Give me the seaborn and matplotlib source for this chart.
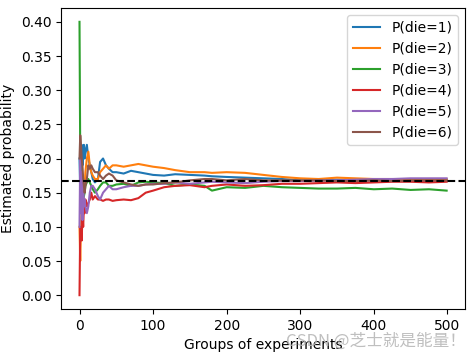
import matplotlib
matplotlib.use("Agg")
import matplotlib.pyplot as plt
import seaborn as sns
import pandas as pd

groups = [0, 1, 2, 3, 4, 5, 6, 7, 8, 10, 12, 14, 16, 18, 21, 25, 28, 32, 36, 40, 45,
          50, 60, 70, 80, 90, 100, 115, 130, 150, 170, 180, 200, 225, 250, 275, 300,
          325, 350, 375, 400, 425, 450, 475, 499]

p_die1 = [0.20, 0.15, 0.20, 0.22, 0.19, 0.21, 0.22, 0.20, 0.21, 0.22, 0.20, 0.19, 0.18,
          0.17, 0.165, 0.17, 0.195, 0.20, 0.19, 0.185, 0.18, 0.18, 0.178, 0.182, 0.18,
          0.178, 0.176, 0.175, 0.177, 0.176, 0.175, 0.174, 0.173, 0.172, 0.171, 0.170,
          0.168, 0.168, 0.169, 0.168, 0.168, 0.169, 0.168, 0.167, 0.168]
p_die2 = [0.10, 0.05, 0.10, 0.13, 0.16, 0.15, 0.17, 0.16, 0.18, 0.20, 0.21, 0.19, 0.18,
          0.175, 0.17, 0.17, 0.18, 0.185, 0.19, 0.185, 0.19, 0.19, 0.188, 0.19, 0.192,
          0.19, 0.188, 0.186, 0.183, 0.18, 0.18, 0.179, 0.18, 0.179, 0.176, 0.173,
          0.171, 0.170, 0.172, 0.171, 0.170, 0.170, 0.169, 0.170, 0.170]
p_die3 = [0.40, 0.20, 0.15, 0.14, 0.15, 0.14, 0.145, 0.15, 0.16, 0.165, 0.17, 0.165,
          0.16, 0.155, 0.15, 0.155, 0.16, 0.165, 0.165, 0.16, 0.16, 0.162, 0.163, 0.160,
          0.165, 0.166, 0.165, 0.164, 0.160, 0.162, 0.160, 0.153, 0.158, 0.157, 0.160,
          0.158, 0.157, 0.156, 0.156, 0.157, 0.155, 0.156, 0.154, 0.155, 0.153]
p_die4 = [0.00, 0.10, 0.10, 0.08, 0.12, 0.10, 0.13, 0.12, 0.14, 0.13, 0.135, 0.14, 0.15,
          0.14, 0.145, 0.14, 0.14, 0.138, 0.14, 0.14, 0.138, 0.139, 0.14, 0.139, 0.142,
          0.15, 0.153, 0.158, 0.160, 0.161, 0.158, 0.160, 0.162, 0.160, 0.161, 0.163,
          0.163, 0.164, 0.165, 0.164, 0.165, 0.166, 0.166, 0.165, 0.166]
p_die5 = [0.10, 0.20, 0.12, 0.18, 0.11, 0.17, 0.13, 0.14, 0.13, 0.12, 0.13, 0.15, 0.16,
          0.16, 0.155, 0.145, 0.14, 0.15, 0.155, 0.16, 0.155, 0.155, 0.158, 0.16, 0.16,
          0.162, 0.163, 0.163, 0.165, 0.163, 0.165, 0.166, 0.165, 0.164, 0.166, 0.167,
          0.167, 0.168, 0.168, 0.169, 0.170, 0.170, 0.171, 0.171, 0.171]
p_die6 = [0.20, 0.234, 0.22, 0.20, 0.19, 0.17, 0.16, 0.15, 0.16, 0.17, 0.19, 0.185, 0.19,
          0.185, 0.18, 0.18, 0.175, 0.17, 0.175, 0.178, 0.175, 0.168, 0.165, 0.162,
          0.160, 0.162, 0.162, 0.164, 0.165, 0.168, 0.170, 0.170, 0.168, 0.170, 0.168,
          0.168, 0.168, 0.168, 0.167, 0.167, 0.168, 0.167, 0.168, 0.168, 0.168]

labels = ["P(die=1)", "P(die=2)", "P(die=3)", "P(die=4)", "P(die=5)", "P(die=6)"]
series = [p_die1, p_die2, p_die3, p_die4, p_die5, p_die6]

df = pd.concat(
    [pd.DataFrame({"group": groups, "prob": s, "die": lab}) for lab, s in zip(labels, series)],
    ignore_index=True,
)

fig, ax = plt.subplots(figsize=(4.74, 3.55), dpi=100)
fig.subplots_adjust(left=0.129, right=0.981, top=0.977, bottom=0.13)

sns.lineplot(data=df, x="group", y="prob", hue="die", palette="tab10",
             linewidth=1.5, ax=ax)
ax.axhline(y=1 / 6, color="black", linestyle="dashed")

ax.set_xlabel("Groups of experiments")
ax.set_ylabel("Estimated probability")
ax.legend(loc="upper right")

# watermark (overlaps the x label in the original too)
fig.text(0.983, 0.04, "CSDN @芝士就是能量！", ha="right", va="center", fontsize=12,
         color="#b8b8b8", alpha=0.9, family=["Noto Sans CJK SC", "DejaVu Sans"])

plt.savefig("out.png", dpi=100)
